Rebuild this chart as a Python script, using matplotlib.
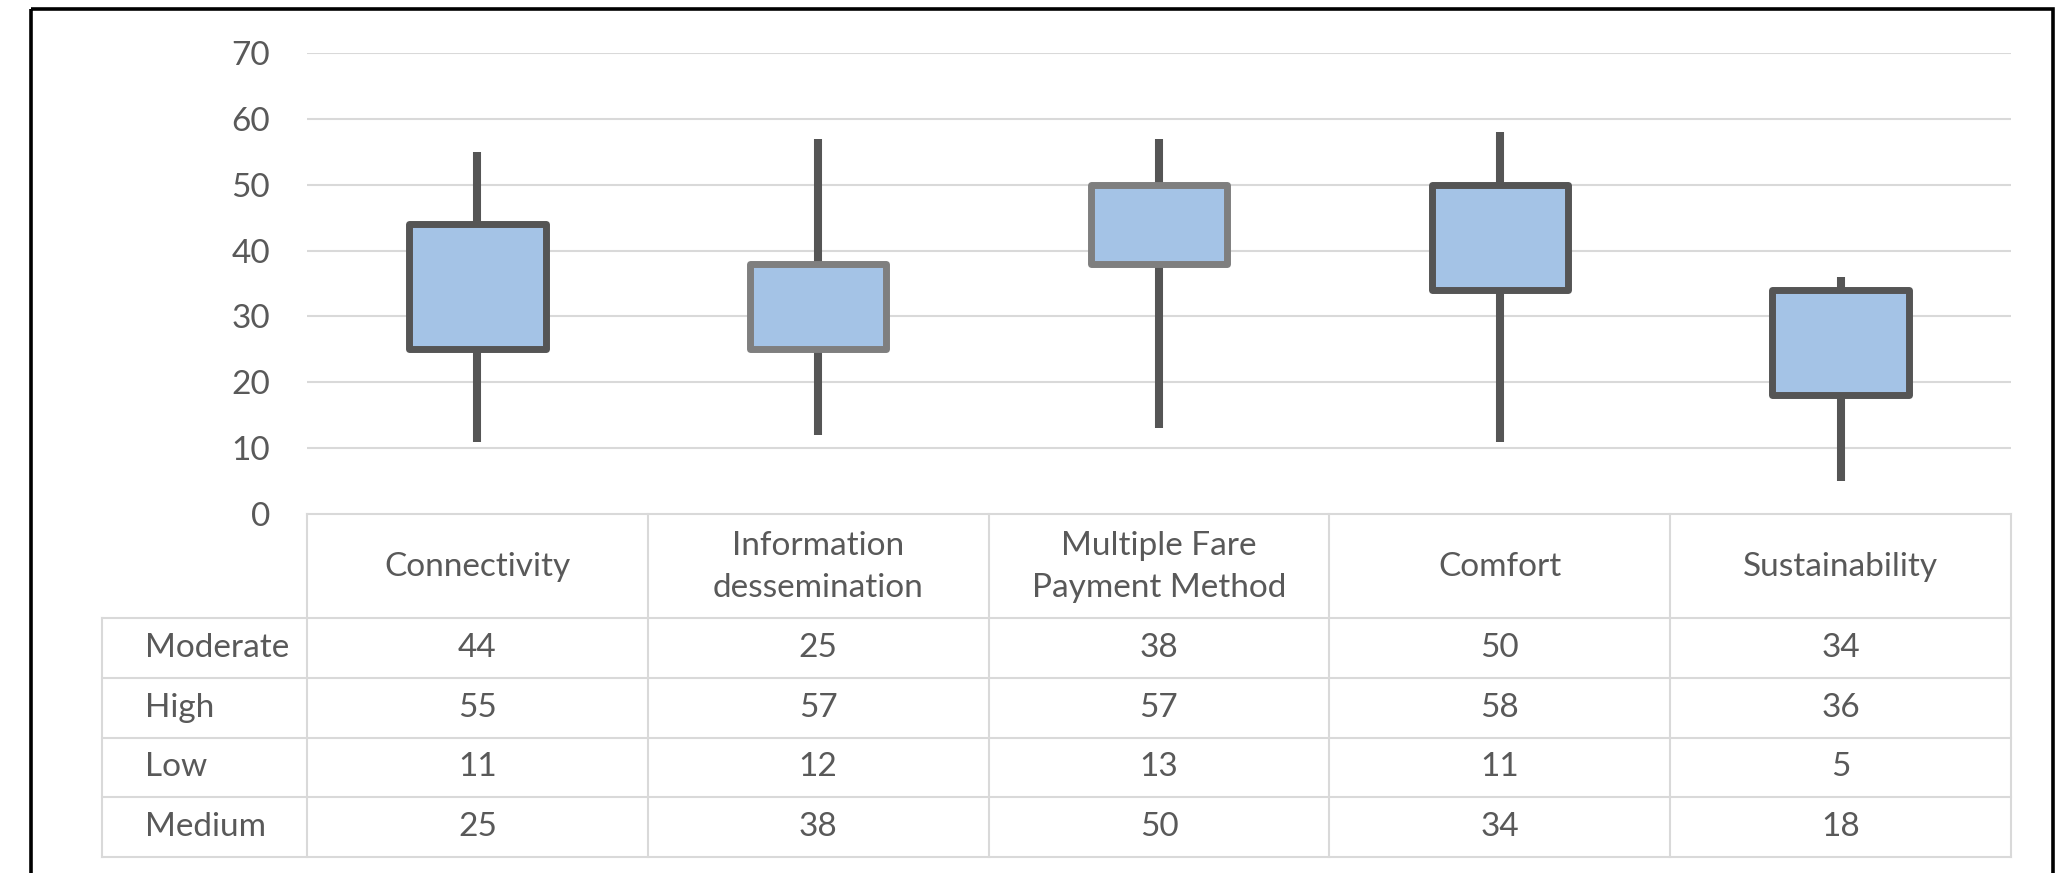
import matplotlib
matplotlib.use('Agg')
import matplotlib.pyplot as plt
from matplotlib.patches import Rectangle

# ---------------- data ----------------
categories = ["Connectivity", "Information\ndessemination", "Multiple Fare\nPayment Method",
              "Comfort", "Sustainability"]
moderate = [44, 25, 38, 50, 34]   # open
high = [55, 57, 57, 58, 36]
low = [11, 12, 13, 11, 5]
medium = [25, 38, 50, 34, 18]     # close
row_labels = ["Moderate", "High", "Low", "Medium"]
y_ticks = [0, 10, 20, 30, 40, 50, 60, 70]

# ---------------- style ----------------
plt.rcParams['font.family'] = ['Lato', 'DejaVu Sans']
TEXT = '#595959'
GRID = '#d9d9d9'
FILL = '#a4c3e6'
EDGE_DOWN = '#555555'
EDGE_UP = '#7f7f7f'
WICK = '#555555'
FS = 24

W, H = 2060, 873
fig = plt.figure(figsize=(W / 100, H / 100), dpi=100)
fig.patch.set_facecolor('white')

ax_left, ax_right = 307, 2011
ax_top, ax_bottom = 53, 514
ax = fig.add_axes([ax_left / W, 1 - ax_bottom / H,
                   (ax_right - ax_left) / W, (ax_bottom - ax_top) / H])
ax.set_facecolor('none')
n = len(categories)
ax.set_xlim(-0.5, n - 0.5)
ax.set_ylim(0, 70)
for s in ax.spines.values():
    s.set_visible(False)
ax.set_xticks([])
ax.set_yticks(y_ticks)
ax.tick_params(axis='y', length=0, pad=26.5, labelsize=FS, labelcolor=TEXT)
for t in y_ticks[1:]:
    ax.axhline(t, color=GRID, lw=1.5, zorder=0)

xs = list(range(n))
ax.vlines(xs, low, high, color=WICK, lw=5.8, zorder=2)
for i in xs:
    o, c = moderate[i], medium[i]
    ec = EDGE_UP if c > o else EDGE_DOWN
    ax.add_patch(Rectangle((i - 0.2, min(o, c)), 0.4, abs(c - o), facecolor=FILL,
                           edgecolor=ec, lw=5, joinstyle='round', zorder=3))

# ---------------- data table (pixel-coordinate overlay) ----------------
ov = fig.add_axes([0, 0, 1, 1])
ov.set_xlim(0, W)
ov.set_ylim(H, 0)
ov.axis('off')
ov.patch.set_visible(False)

colw = (ax_right - ax_left) / n
lab_left = 102
head_bot = 618
row_h = (857 - head_bot) / len(row_labels)
tab_bot = head_bot + row_h * len(row_labels)

# horizontal lines
ov.plot([ax_left, ax_right], [ax_bottom, ax_bottom], color=GRID, lw=1.5)
for j in range(len(row_labels) + 1):
    y = head_bot + j * row_h
    ov.plot([lab_left, ax_right], [y, y], color=GRID, lw=1.5)
# vertical lines
ov.plot([lab_left, lab_left], [head_bot, tab_bot], color=GRID, lw=1.5)
for i in range(n + 1):
    x = ax_left + i * colw
    ov.plot([x, x], [ax_bottom, tab_bot], color=GRID, lw=1.5)

# header text
for i, cat in enumerate(categories):
    ov.text(ax_left + (i + 0.5) * colw, (ax_bottom + head_bot) / 2 + 1, cat,
            ha='center', va='center', multialignment='center', linespacing=1.5,
            fontsize=FS, color=TEXT)

series = [moderate, high, low, medium]
for j, (lab, vals) in enumerate(zip(row_labels, series)):
    yc = head_bot + (j + 0.5) * row_h
    ov.text(lab_left + 43, yc, lab, ha='left', va='center', fontsize=FS, color=TEXT)
    for i, v in enumerate(vals):
        ov.text(ax_left + (i + 0.5) * colw, yc, str(v), ha='center', va='center',
                fontsize=FS, color=TEXT)

# outer frame
ov.add_patch(Rectangle((31, 9), 2053 - 31, 880, fill=False, edgecolor='black', lw=2.6))

fig.savefig('out.png', dpi=100, facecolor='white')
